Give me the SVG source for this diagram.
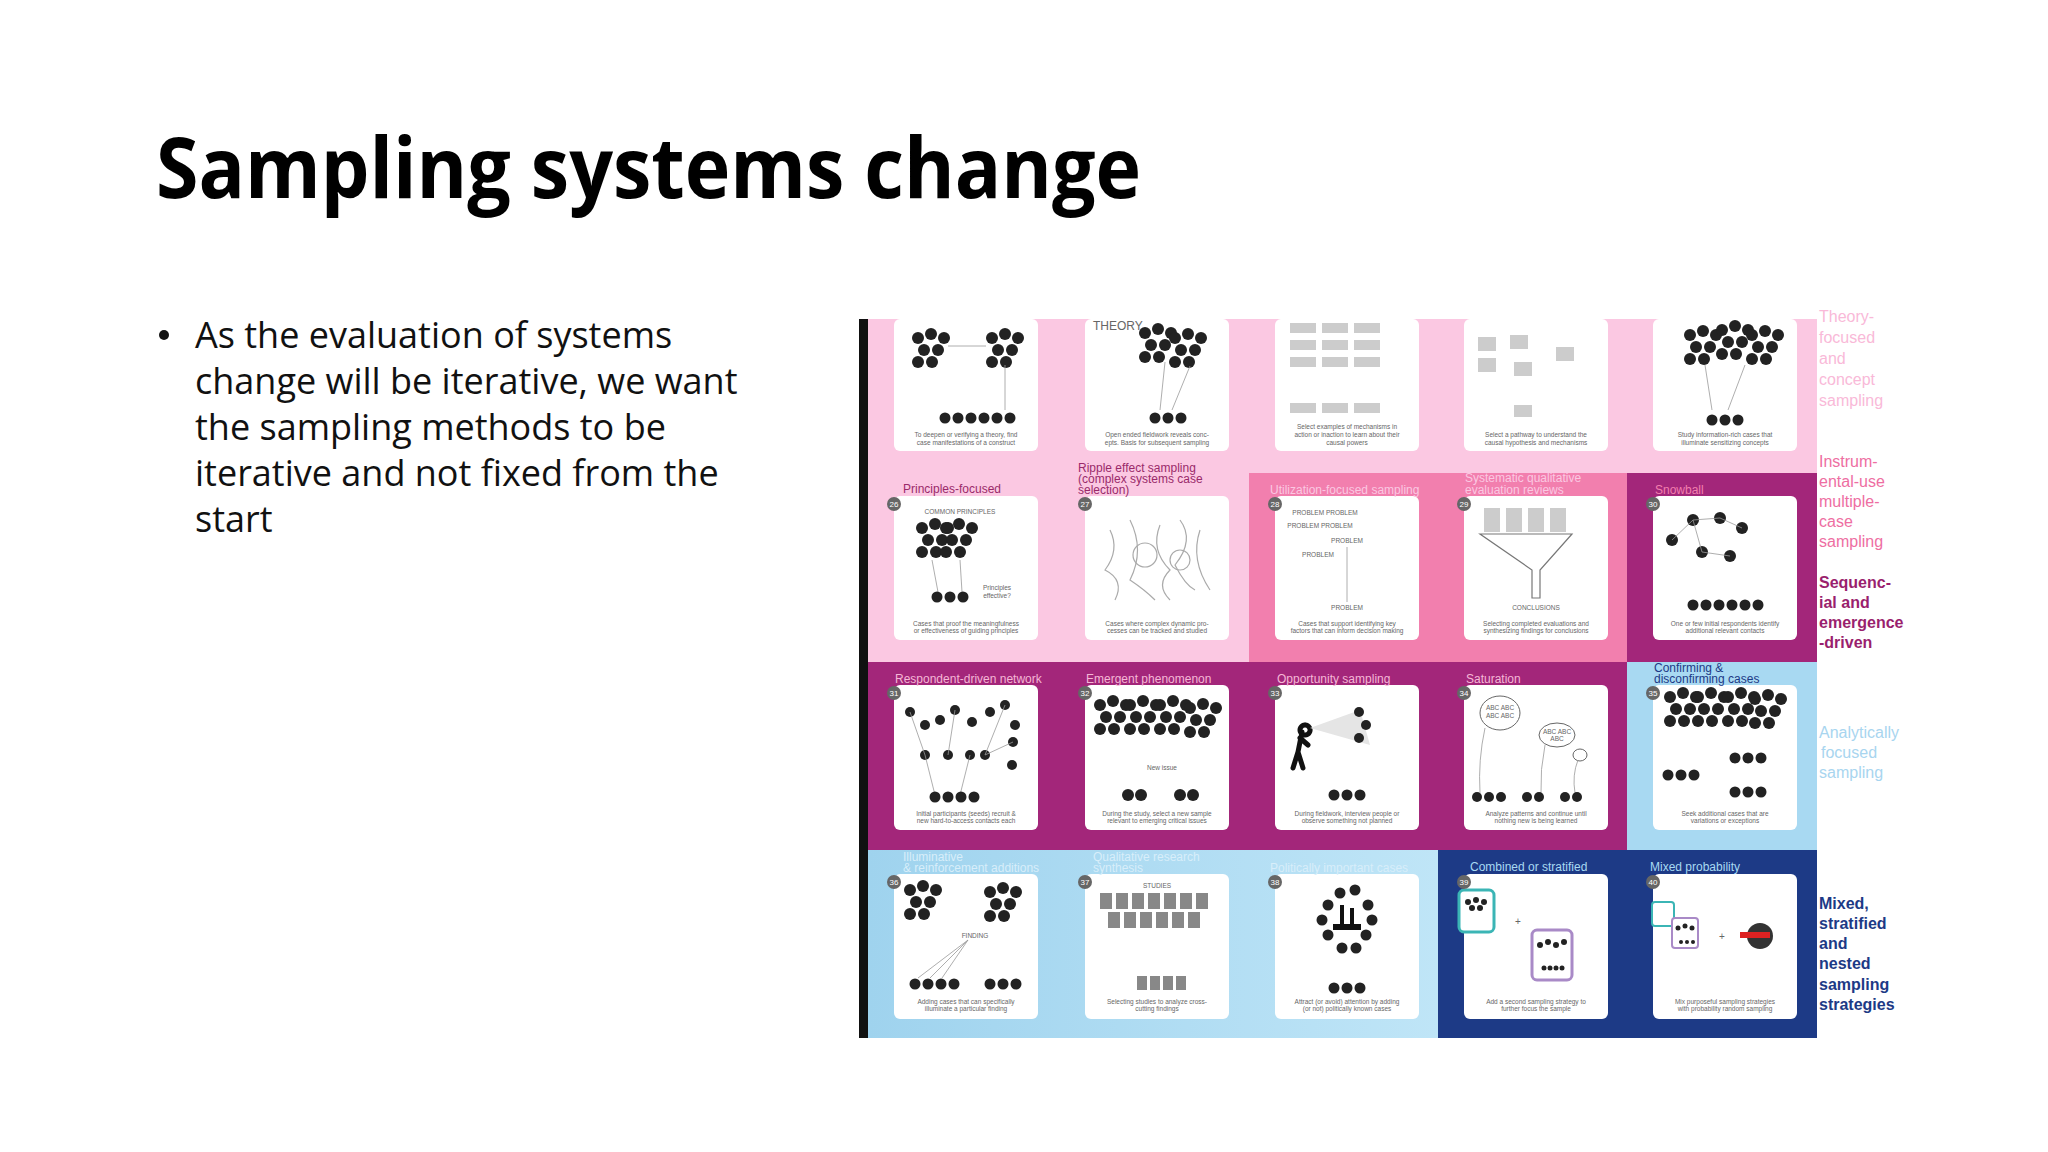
<svg xmlns="http://www.w3.org/2000/svg" width="2048" height="1152" viewBox="0 0 2048 1152">
<style>
.title{font-family:"Open Sans","Liberation Sans",sans-serif;font-weight:bold;font-size:84px;fill:#000}
.body{font-family:"Open Sans","Liberation Sans",sans-serif;font-size:36px;fill:#111}
.card{fill:#fff;rx:6px}
.cap{font-family:"Liberation Sans",sans-serif;font-size:6.5px;fill:#666;text-anchor:middle}
.lab{font-family:"Liberation Sans",sans-serif;font-size:12px}
.num{fill:#666}
.numt{font-family:"Liberation Sans",sans-serif;font-size:8px;fill:#fff;text-anchor:middle}
.d{fill:#222}
.ln{stroke:#999;stroke-width:0.8;fill:none}
.side{font-family:"Liberation Sans",sans-serif;font-size:16px}
.sb{font-weight:bold}
.box{fill:#ccc}
.gbox{fill:#888}
</style>
<defs>
<g id="cl"><circle class="d" cx="0" cy="0" r="6"/><circle class="d" cx="13" cy="-4" r="6"/><circle class="d" cx="26" cy="0" r="6"/><circle class="d" cx="6" cy="12" r="6"/><circle class="d" cx="20" cy="12" r="6"/><circle class="d" cx="0" cy="24" r="6"/><circle class="d" cx="14" cy="24" r="6"/></g>
<g id="r3"><circle class="d" cx="0" cy="0" r="5.5"/><circle class="d" cx="13" cy="0" r="5.5"/><circle class="d" cx="26" cy="0" r="5.5"/></g>
<g id="r4"><use href="#r3"/><circle class="d" cx="39" cy="0" r="5.5"/></g>
<g id="r6"><use href="#r3"/><use href="#r3" x="39"/></g>
</defs>
<rect width="2048" height="1152" fill="#fff"/>
<text class="title" x="156" y="198" textLength="985" lengthAdjust="spacingAndGlyphs">Sampling systems change</text>
<g id="bullets">
<circle cx="164" cy="335" r="5" fill="#111"/>
<text class="body" x="195" y="348">As the evaluation of systems</text>
<text class="body" x="195" y="394">change will be iterative, we want</text>
<text class="body" x="195" y="440">the sampling methods to be</text>
<text class="body" x="195" y="486">iterative and not fixed from the</text>
<text class="body" x="195" y="532">start</text>
</g>
<g id="poster">
<defs>
<linearGradient id="lb" x1="0" y1="0" x2="1" y2="0"><stop offset="0" stop-color="#9fd3ee"/><stop offset="1" stop-color="#bfe5f7"/></linearGradient>
</defs>
<rect x="859" y="319" width="9" height="719" fill="#111"/>
<rect x="868" y="319" width="949" height="154" fill="#fbc8e2"/>
<rect x="868" y="473" width="381" height="189" fill="#fbc8e2"/>
<rect x="1249" y="473" width="378" height="189" fill="#f27fae"/>
<rect x="1627" y="473" width="190" height="189" fill="#a3267a"/>
<rect x="868" y="662" width="759" height="188" fill="#a3267a"/>
<rect x="1627" y="662" width="190" height="188" fill="#a8d9f2"/>
<rect x="868" y="850" width="570" height="188" fill="url(#lb)"/>
<rect x="1438" y="850" width="379" height="188" fill="#1d3a86"/>
<!-- cards -->
<g fill="#fff">
<rect class="card" x="894" y="319" width="144" height="132"/><rect class="card" x="1085" y="319" width="144" height="132"/><rect class="card" x="1275" y="319" width="144" height="132"/><rect class="card" x="1464" y="319" width="144" height="132"/><rect class="card" x="1653" y="319" width="144" height="132"/>
<rect class="card" x="894" y="496" width="144" height="144"/><rect class="card" x="1085" y="496" width="144" height="144"/><rect class="card" x="1275" y="496" width="144" height="144"/><rect class="card" x="1464" y="496" width="144" height="144"/><rect class="card" x="1653" y="496" width="144" height="144"/>
<rect class="card" x="894" y="685" width="144" height="145"/><rect class="card" x="1085" y="685" width="144" height="145"/><rect class="card" x="1275" y="685" width="144" height="145"/><rect class="card" x="1464" y="685" width="144" height="145"/><rect class="card" x="1653" y="685" width="144" height="145"/>
<rect class="card" x="894" y="874" width="144" height="145"/><rect class="card" x="1085" y="874" width="144" height="145"/><rect class="card" x="1275" y="874" width="144" height="145"/><rect class="card" x="1464" y="874" width="144" height="145"/><rect class="card" x="1653" y="874" width="144" height="145"/>
</g>
<!-- row1 content -->
<use href="#cl" x="918" y="338"/><use href="#cl" x="992" y="338"/><line class="ln" x1="948" y1="346" x2="986" y2="346"/><line class="ln" x1="1005" y1="365" x2="1005" y2="410"/>
<use href="#r6" x="945" y="418"/>
<text class="cap" x="966" y="437">To deepen or verifying a theory, find</text><text class="cap" x="966" y="445">case manifestations of a construct</text>
<text class="lab" x="1093" y="330" font-size="7" fill="#666">THEORY</text><use href="#cl" x="1145" y="333"/><use href="#cl" x="1175" y="338"/><line class="ln" x1="1165" y1="362" x2="1160" y2="410"/><line class="ln" x1="1190" y1="366" x2="1172" y2="410"/>
<use href="#r3" x="1155" y="418"/>
<text class="cap" x="1157" y="437">Open ended fieldwork reveals conc-</text><text class="cap" x="1157" y="445">epts. Basis for subsequent sampling</text>
<g class="box"><rect x="1290" y="323" width="26" height="10"/><rect x="1322" y="323" width="26" height="10"/><rect x="1354" y="323" width="26" height="10"/><rect x="1290" y="340" width="26" height="10"/><rect x="1322" y="340" width="26" height="10"/><rect x="1354" y="340" width="26" height="10"/><rect x="1290" y="357" width="26" height="10"/><rect x="1322" y="357" width="26" height="10"/><rect x="1354" y="357" width="26" height="10"/><rect x="1290" y="403" width="26" height="10"/><rect x="1322" y="403" width="26" height="10"/><rect x="1354" y="403" width="26" height="10"/></g>
<text class="cap" x="1347" y="429">Select examples of mechanisms in</text><text class="cap" x="1347" y="437">action or inaction to learn about their</text><text class="cap" x="1347" y="445">causal powers</text>
<g class="box"><rect x="1478" y="337" width="18" height="14"/><rect x="1510" y="335" width="18" height="14"/><rect x="1478" y="358" width="18" height="14"/><rect x="1514" y="362" width="18" height="14"/><rect x="1556" y="347" width="18" height="14"/><rect x="1514" y="405" width="18" height="12"/></g>
<text class="cap" x="1536" y="437">Select a pathway to understand the</text><text class="cap" x="1536" y="445">causal hypothesis and mechanisms</text>
<use href="#cl" x="1690" y="335"/><use href="#cl" x="1722" y="330"/><use href="#cl" x="1752" y="335"/><line class="ln" x1="1705" y1="365" x2="1712" y2="410"/><line class="ln" x1="1745" y1="365" x2="1728" y2="410"/>
<use href="#r3" x="1712" y="420"/>
<text class="cap" x="1725" y="437">Study information-rich cases that</text><text class="cap" x="1725" y="445">illuminate sensitizing concepts</text>
<!-- row2 content -->
<use href="#cl" x="922" y="528"/><use href="#cl" x="946" y="528"/><line class="ln" x1="932" y1="560" x2="938" y2="592"/><line class="ln" x1="960" y1="560" x2="962" y2="592"/>
<use href="#r3" x="937" y="597"/><text class="cap" x="997" y="590">Principles</text><text class="cap" x="997" y="598">effective?</text>
<text class="cap" x="960" y="514" font-size="7">COMMON PRINCIPLES</text>
<text class="cap" x="966" y="626">Cases that proof the meaningfulness</text><text class="cap" x="966" y="633">or effectiveness of guiding principles</text>
<g fill="none" stroke="#aaa" stroke-width="1.2"><path d="M1110 530 q10 20 -5 40 q20 10 10 30 M1130 520 q15 30 0 60 q15 10 25 20 M1160 525 q-10 25 10 45 q-15 15 0 30 M1180 520 q15 20 -5 45 q10 20 20 25 M1200 530 q-10 30 10 60"/><circle cx="1145" cy="555" r="12"/><circle cx="1180" cy="560" r="10"/></g>
<text class="cap" x="1157" y="626">Cases where complex dynamic pro-</text><text class="cap" x="1157" y="633">cesses can be tracked and studied</text>
<g class="cap" font-size="7" fill="#555"><text x="1325" y="515">PROBLEM  PROBLEM</text><text x="1320" y="528">PROBLEM  PROBLEM</text><text x="1347" y="543">PROBLEM</text><text x="1318" y="557">PROBLEM</text><text x="1347" y="610">PROBLEM</text></g>
<line class="ln" x1="1347" y1="547" x2="1347" y2="602"/>
<text class="cap" x="1347" y="626">Cases that support identifying key</text><text class="cap" x="1347" y="633">factors that can inform decision making</text>
<g class="box"><rect x="1484" y="508" width="16" height="24"/><rect x="1506" y="508" width="16" height="24"/><rect x="1528" y="508" width="16" height="24"/><rect x="1550" y="508" width="16" height="24"/></g>
<path d="M1480 534 L1572 534 L1540 570 L1540 598 L1532 598 L1532 570 Z" fill="none" stroke="#777" stroke-width="1.2"/>
<text class="cap" x="1536" y="610" font-size="7">CONCLUSIONS</text>
<text class="cap" x="1536" y="626">Selecting completed evaluations and</text><text class="cap" x="1536" y="633">synthesizing findings for conclusions</text>
<g class="d"><circle cx="1672" cy="540" r="6"/><circle cx="1693" cy="520" r="6"/><circle cx="1720" cy="518" r="6"/><circle cx="1742" cy="528" r="6"/><circle cx="1702" cy="552" r="6"/><circle cx="1730" cy="556" r="6"/></g>
<polyline class="ln" stroke="#444" points="1672,540 1693,520 1720,518 1742,528"/><polyline class="ln" stroke="#444" points="1693,520 1702,552 1730,556"/>
<use href="#r6" x="1693" y="605"/>
<text class="cap" x="1725" y="626">One or few initial respondents identify</text><text class="cap" x="1725" y="633">additional relevant contacts</text>
<!-- row3 -->
<g class="d"><circle cx="910" cy="712" r="5"/><circle cx="925" cy="725" r="5"/><circle cx="940" cy="720" r="5"/><circle cx="955" cy="710" r="5"/><circle cx="972" cy="722" r="5"/><circle cx="990" cy="712" r="5"/><circle cx="1005" cy="705" r="5"/><circle cx="1015" cy="725" r="5"/><circle cx="1013" cy="742" r="5"/><circle cx="925" cy="755" r="5"/><circle cx="948" cy="755" r="5"/><circle cx="970" cy="755" r="5"/><circle cx="985" cy="755" r="5"/><circle cx="1012" cy="765" r="5"/></g>
<g class="ln"><line x1="925" y1="755" x2="910" y2="712"/><line x1="948" y1="755" x2="955" y2="710"/><line x1="985" y1="755" x2="1005" y2="705"/><line x1="985" y1="755" x2="1013" y2="742"/><line x1="925" y1="755" x2="935" y2="795"/><line x1="970" y1="755" x2="960" y2="795"/></g>
<use href="#r4" x="935" y="797"/>
<text class="cap" x="966" y="816">Initial participants (seeds) recruit &amp;</text><text class="cap" x="966" y="823">new hard-to-access contacts each</text>
<use href="#cl" x="1100" y="705"/><use href="#cl" x="1130" y="705"/><use href="#cl" x="1160" y="705"/><use href="#cl" x="1190" y="708"/>
<text class="cap" x="1162" y="770" font-size="6">New issue</text>
<g class="d"><circle cx="1128" cy="795" r="6"/><circle cx="1141" cy="795" r="6"/><circle cx="1180" cy="795" r="6"/><circle cx="1193" cy="795" r="6"/></g>
<text class="cap" x="1157" y="816">During the study, select a new sample</text><text class="cap" x="1157" y="823">relevant to emerging critical issues</text>
<path d="M1305 725 a5 5 0 1 0 0.1 0 M1302 732 L1298 752 L1293 768 M1298 752 L1303 768 M1300 738 L1308 745" stroke="#111" stroke-width="5" fill="none" stroke-linecap="round"/>
<path d="M1310 728 L1360 710 L1370 745 Z" fill="#e5e5e5"/>
<g class="d"><circle cx="1359" cy="712" r="5"/><circle cx="1366" cy="725" r="5"/><circle cx="1359" cy="738" r="5"/></g>
<use href="#r3" x="1334" y="795"/>
<text class="cap" x="1347" y="816">During fieldwork, interview people or</text><text class="cap" x="1347" y="823">observe something not planned</text>
<g fill="#fff" stroke="#666" stroke-width="1"><ellipse cx="1500" cy="713" rx="20" ry="17"/><ellipse cx="1557" cy="735" rx="18" ry="12"/><ellipse cx="1580" cy="755" rx="7" ry="6"/></g>
<g class="cap" font-size="6" fill="#555"><text x="1500" y="710">ABC ABC</text><text x="1500" y="718">ABC ABC</text><text x="1557" y="734">ABC ABC</text><text x="1557" y="741">ABC</text></g>
<path class="ln" d="M1485 728 Q1478 760 1480 793 M1545 745 Q1540 770 1541 793 M1578 760 Q1572 775 1575 793"/>
<g class="d"><circle cx="1477" cy="797" r="5"/><circle cx="1489" cy="797" r="5"/><circle cx="1501" cy="797" r="5"/><circle cx="1527" cy="797" r="5"/><circle cx="1539" cy="797" r="5"/><circle cx="1565" cy="797" r="5"/><circle cx="1577" cy="797" r="5"/></g>
<text class="cap" x="1536" y="816">Analyze patterns and continue until</text><text class="cap" x="1536" y="823">nothing new is being learned</text>
<use href="#cl" x="1670" y="697"/><use href="#cl" x="1698" y="697"/><use href="#cl" x="1728" y="697"/><use href="#cl" x="1755" y="699"/>
<use href="#r3" x="1668" y="775"/><use href="#r3" x="1735" y="758"/><use href="#r3" x="1735" y="792"/>
<text class="cap" x="1725" y="816">Seek additional cases that are</text><text class="cap" x="1725" y="823">variations or exceptions</text>
<!-- row4 -->
<use href="#cl" x="910" y="890"/><use href="#cl" x="990" y="892"/>
<text class="cap" x="975" y="938" font-size="6">FINDING</text>
<g class="ln"><line x1="968" y1="940" x2="918" y2="978"/><line x1="968" y1="940" x2="930" y2="978"/><line x1="968" y1="940" x2="942" y2="978"/></g>
<use href="#r4" x="915" y="984"/><use href="#r3" x="990" y="984"/>
<text class="cap" x="966" y="1004">Adding cases that can specifically</text><text class="cap" x="966" y="1011">illuminate a particular finding</text>
<text class="cap" x="1157" y="888" font-size="6">STUDIES</text>
<g class="gbox"><rect x="1100" y="893" width="12" height="16"/><rect x="1116" y="893" width="12" height="16"/><rect x="1132" y="893" width="12" height="16"/><rect x="1148" y="893" width="12" height="16"/><rect x="1164" y="893" width="12" height="16"/><rect x="1180" y="893" width="12" height="16"/><rect x="1196" y="893" width="12" height="16"/><rect x="1108" y="912" width="12" height="16"/><rect x="1124" y="912" width="12" height="16"/><rect x="1140" y="912" width="12" height="16"/><rect x="1156" y="912" width="12" height="16"/><rect x="1172" y="912" width="12" height="16"/><rect x="1188" y="912" width="12" height="16"/><rect x="1137" y="976" width="10" height="14"/><rect x="1150" y="976" width="10" height="14"/><rect x="1163" y="976" width="10" height="14"/><rect x="1176" y="976" width="10" height="14"/></g>
<text class="cap" x="1157" y="1004">Selecting studies to analyze cross-</text><text class="cap" x="1157" y="1011">cutting findings</text>
<g class="d"><circle cx="1340" cy="893" r="5.5"/><circle cx="1355" cy="890" r="5.5"/><circle cx="1328" cy="905" r="5.5"/><circle cx="1368" cy="905" r="5.5"/><circle cx="1322" cy="920" r="5.5"/><circle cx="1372" cy="920" r="5.5"/><circle cx="1328" cy="935" r="5.5"/><circle cx="1366" cy="935" r="5.5"/><circle cx="1342" cy="948" r="5.5"/><circle cx="1356" cy="948" r="5.5"/></g>
<rect x="1333" y="924" width="28" height="6" fill="#111"/><rect x="1340" y="905" width="4" height="20" fill="#111"/><rect x="1350" y="908" width="4" height="18" fill="#111"/>
<use href="#r3" x="1334" y="988"/>
<text class="cap" x="1347" y="1004">Attract (or avoid) attention by adding</text><text class="cap" x="1347" y="1011">(or not) politically known cases</text>
<rect x="1459" y="890" width="35" height="42" rx="5" fill="#fff" stroke="#3bb5b5" stroke-width="3"/>
<rect x="1532" y="930" width="40" height="50" rx="5" fill="#fff" stroke="#a98ac7" stroke-width="3"/>
<g class="d"><circle cx="1468" cy="902" r="3"/><circle cx="1476" cy="900" r="3"/><circle cx="1484" cy="902" r="3"/><circle cx="1472" cy="908" r="3"/><circle cx="1480" cy="908" r="3"/><circle cx="1540" cy="945" r="3"/><circle cx="1548" cy="942" r="3"/><circle cx="1556" cy="945" r="3"/><circle cx="1564" cy="942" r="3"/><circle cx="1544" cy="968" r="2.5"/><circle cx="1550" cy="968" r="2.5"/><circle cx="1556" cy="968" r="2.5"/><circle cx="1562" cy="968" r="2.5"/></g>
<text x="1518" y="925" font-family="Liberation Sans" font-size="10" fill="#666" text-anchor="middle">+</text>
<text class="cap" x="1536" y="1004">Add a second sampling strategy to</text><text class="cap" x="1536" y="1011">further focus the sample</text>
<rect x="1652" y="902" width="22" height="24" rx="3" fill="#fff" stroke="#3bb5b5" stroke-width="2"/>
<rect x="1672" y="918" width="26" height="30" rx="3" fill="#fff" stroke="#a98ac7" stroke-width="2"/>
<g class="d"><circle cx="1678" cy="928" r="2.5"/><circle cx="1685" cy="926" r="2.5"/><circle cx="1692" cy="928" r="2.5"/><circle cx="1681" cy="942" r="2"/><circle cx="1687" cy="942" r="2"/><circle cx="1693" cy="942" r="2"/></g>
<text x="1722" y="940" font-family="Liberation Sans" font-size="10" fill="#666" text-anchor="middle">+</text>
<circle cx="1760" cy="936" r="13" fill="#333"/><rect x="1740" y="932" width="30" height="6" fill="#d22"/>
<text class="cap" x="1725" y="1004">Mix purposeful sampling strategies</text><text class="cap" x="1725" y="1011">with probability random sampling</text>
<!-- number badges -->
<g class="num">
<circle cx="894" cy="504" r="7"/><circle cx="1085" cy="504" r="7"/><circle cx="1275" cy="504" r="7"/><circle cx="1464" cy="504" r="7"/><circle cx="1653" cy="504" r="7"/>
<circle cx="894" cy="693" r="7"/><circle cx="1085" cy="693" r="7"/><circle cx="1275" cy="693" r="7"/><circle cx="1464" cy="693" r="7"/><circle cx="1653" cy="693" r="7"/>
<circle cx="894" cy="882" r="7"/><circle cx="1085" cy="882" r="7"/><circle cx="1275" cy="882" r="7"/><circle cx="1464" cy="882" r="7"/><circle cx="1653" cy="882" r="7"/>
</g>
<g class="numt">
<text x="894" y="507">26</text><text x="1085" y="507">27</text><text x="1275" y="507">28</text><text x="1464" y="507">29</text><text x="1653" y="507">30</text>
<text x="894" y="696">31</text><text x="1085" y="696">32</text><text x="1275" y="696">33</text><text x="1464" y="696">34</text><text x="1653" y="696">35</text>
<text x="894" y="885">36</text><text x="1085" y="885">37</text><text x="1275" y="885">38</text><text x="1464" y="885">39</text><text x="1653" y="885">40</text>
</g>
<!-- cell labels -->
<g class="lab">
<text x="903" y="493" fill="#9a2a6a">Principles-focused</text>
<text x="1078" y="472" fill="#9a2a6a">Ripple effect sampling</text><text x="1078" y="483" fill="#9a2a6a">(complex systems case</text><text x="1078" y="494" fill="#9a2a6a">selection)</text>
<text x="1270" y="494" fill="#fbc8e2">Utilization-focused sampling</text>
<text x="1465" y="482" fill="#fbc8e2">Systematic qualitative</text><text x="1465" y="494" fill="#fbc8e2">evaluation reviews</text>
<text x="1655" y="494" fill="#f27fae">Snowball</text>
<text x="895" y="683" fill="#f5b6d6">Respondent-driven network</text>
<text x="1086" y="683" fill="#f5b6d6">Emergent phenomenon</text>
<text x="1277" y="683" fill="#f5b6d6">Opportunity sampling</text>
<text x="1466" y="683" fill="#f5b6d6">Saturation</text>
<text x="1654" y="672" fill="#1d3a86">Confirming &amp;</text><text x="1654" y="683" fill="#1d3a86">disconfirming cases</text>
<text x="903" y="861" fill="#d8eefa">Illuminative</text><text x="903" y="872" fill="#d8eefa">&amp; reinforcement additions</text>
<text x="1093" y="861" fill="#d8eefa">Qualitative research</text><text x="1093" y="872" fill="#d8eefa">synthesis</text>
<text x="1270" y="872" fill="#d8eefa">Politically important cases</text>
<text x="1470" y="871" fill="#a8d9f2">Combined or stratified</text>
<text x="1650" y="871" fill="#a8d9f2">Mixed probability</text>
</g>
<!-- side labels -->
<g class="side">
<text x="1819" y="322" fill="#f9b9d8">Theory-</text><text x="1819" y="343" fill="#f9b9d8">focused</text><text x="1819" y="364" fill="#f9b9d8">and</text><text x="1819" y="385" fill="#f9b9d8">concept</text><text x="1819" y="406" fill="#f9b9d8">sampling</text>
<text x="1819" y="467" fill="#ee6ea2">Instrum-</text><text x="1819" y="487" fill="#ee6ea2">ental-use</text><text x="1819" y="507" fill="#ee6ea2">multiple-</text><text x="1819" y="527" fill="#ee6ea2">case</text><text x="1819" y="547" fill="#ee6ea2">sampling</text>
<text class="sb" x="1819" y="588" fill="#9a1f6e">Sequenc-</text><text class="sb" x="1819" y="608" fill="#9a1f6e">ial and</text><text class="sb" x="1819" y="628" fill="#9a1f6e">emergence</text><text class="sb" x="1819" y="648" fill="#9a1f6e">-driven</text>
<text x="1819" y="738" fill="#a8d5ef">Analytically</text><text x="1821" y="758" fill="#a8d5ef">focused</text><text x="1819" y="778" fill="#a8d5ef">sampling</text>
<text class="sb" x="1819" y="909" fill="#1d3a86">Mixed,</text><text class="sb" x="1819" y="929" fill="#1d3a86">stratified</text><text class="sb" x="1819" y="949" fill="#1d3a86">and</text><text class="sb" x="1819" y="969" fill="#1d3a86">nested</text><text class="sb" x="1819" y="990" fill="#1d3a86">sampling</text><text class="sb" x="1819" y="1010" fill="#1d3a86">strategies</text>
</g>
</g>
</svg>
